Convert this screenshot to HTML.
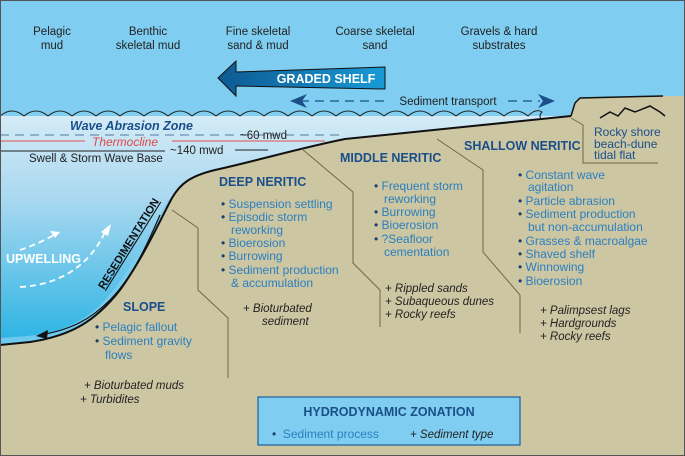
<!DOCTYPE html>
<html><head><meta charset="utf-8"><style>
html,body{margin:0;padding:0;background:#fff}
svg{display:block}
text{font-family:"Liberation Sans",Arial,sans-serif}
.b{fill:#2a7fc0;font-size:12px}
.b tspan.d{fill:#1a3f6a}
.h{fill:#1a4f8a;font-size:12.5px;font-weight:bold}
.i{fill:#222;font-size:11.5px;font-style:italic}
.t{fill:#222;font-size:11.5px}
</style></head><body>
<svg width="685" height="456" viewBox="0 0 685 456" xmlns="http://www.w3.org/2000/svg">
<defs>
<linearGradient id="deep" x1="0" y1="0" x2="0" y2="1">
<stop offset="0" stop-color="#d4ebf6"/><stop offset="0.35" stop-color="#a8d8f0"/><stop offset="1" stop-color="#1fb0e2"/>
</linearGradient>
<linearGradient id="arr" x1="0" y1="0" x2="1" y2="0">
<stop offset="0" stop-color="#0d5a92"/><stop offset="1" stop-color="#1a9ad6"/>
</linearGradient>
</defs>
<rect x="0" y="0" width="685" height="456" fill="#7fcdf0"/>
<rect x="0" y="116" width="600" height="240" fill="url(#deep)"/>
<path d="M0,116 q12,-10 24,0 q12,-10 24,0 q12,-10 24,0 q12,-10 24,0 q12,-10 24,0 q12,-10 24,0 q12,-10 24,0 q12,-10 24,0 q12,-10 24,0 q12,-10 24,0 q12,-10 24,0 q12,-10 24,0 q12,-10 24,0 q12,-10 24,0 q12,-10 24,0 q12,-10 24,0 q12,-10 24,0 q12,-10 24,0 q12,-10 24,0 q12,-10 24,0 q12,-10 24,0 q12,-10 24,0 q8,-8 14,-4 q-4,4 0,8" fill="none" stroke="#222" stroke-width="1"/>
<line x1="0" y1="135" x2="340" y2="135" stroke="#6a8fb0" stroke-width="1.3" stroke-dasharray="9,6"/>
<line x1="0" y1="141" x2="85" y2="141" stroke="#e05050" stroke-width="1"/>
<line x1="172" y1="141" x2="325" y2="141" stroke="#e05050" stroke-width="1"/>
<line x1="0" y1="151" x2="165" y2="151" stroke="#222" stroke-width="1"/>
<line x1="235" y1="150" x2="268" y2="150" stroke="#222" stroke-width="1"/>
<path d="M0,345 L30,342 C70,336 95,322 120,290 C145,255 160,220 172,198 C180,184 190,176 215,170 C260,160 300,148 345,139 L571,116 L575,103 L580,98 L663,96 L685,96 L685,456 L0,456 Z" fill="#cdc6a3"/>
<path d="M0,345 L30,342 C70,336 95,322 120,290 C145,255 160,220 172,198 L168,200 C156,222 140,255 115,288 C92,318 68,332 28,336 L0,338 Z" fill="#7fcdf0" opacity="0.8"/>
<path d="M0,345 L30,342 C70,336 95,322 120,290 C145,255 160,220 172,198 C180,184 190,176 215,170 C260,160 300,148 345,139 L571,116" fill="none" stroke="#111" stroke-width="2"/>
<path d="M571,116 L575,103 L580,98 L663,96" fill="none" stroke="#111" stroke-width="1.5"/>
<path d="M600,118 L610,112 L618,116 L625,108 L635,112 L650,106 L660,112 L665,116" fill="none" stroke="#111" stroke-width="1.5"/>
<path d="M160,215 C145,250 130,280 110,300 C90,320 70,330 40,335" fill="none" stroke="#111" stroke-width="1.2"/>
<polygon points="36,336 48,330 47,339" fill="#111"/>
<text transform="translate(104,290) rotate(-58)" font-size="11" font-weight="bold" fill="#111" style="text-decoration:underline">RESEDIMENTATION</text>
<g fill="none" stroke="#6b6a4a" stroke-width="1">
<polyline points="172,210 198,228 198,290 228,318 228,378"/>
<polyline points="302,149 353,192 353,263 380,290 380,327"/>
<polyline points="437,139 483,170 483,252 520,295 520,333"/>
<polyline points="571,118 583,125 583,163 658,163"/>
</g>
<polygon points="218,78 236,61 236,72 385,67 385,89 236,86 236,96" fill="url(#arr)" stroke="#111" stroke-width="1"/>
<text x="326" y="83" text-anchor="middle" font-size="12.5" font-weight="bold" fill="#fff">GRADED SHELF</text>
<line x1="300" y1="101" x2="388" y2="101" stroke="#1a4f8a" stroke-width="1.2" stroke-dasharray="9,6"/>
<line x1="508" y1="101" x2="540" y2="101" stroke="#1a4f8a" stroke-width="1.2" stroke-dasharray="9,6"/>
<polygon points="290,101 307,94 302,101 307,108" fill="#1a4f8a"/>
<polygon points="555,101 538,94 543,101 538,108" fill="#1a4f8a"/>
<text x="448" y="105" text-anchor="middle" class="t" font-size="12">Sediment transport</text>
<g class="t" text-anchor="middle" font-size="12">
<text x="52" y="35">Pelagic</text><text x="52" y="49">mud</text>
<text x="148" y="35">Benthic</text><text x="148" y="49">skeletal mud</text>
<text x="258" y="35">Fine skeletal</text><text x="258" y="49">sand &amp; mud</text>
<text x="375" y="35">Coarse skeletal</text><text x="375" y="49">sand</text>
<text x="499" y="35">Gravels &amp; hard</text><text x="499" y="49">substrates</text>
</g>
<text x="70" y="130" font-size="12.5" font-weight="bold" font-style="italic" fill="#1a4f8a">Wave Abrasion Zone</text>
<text x="92" y="146" font-size="12" font-style="italic" fill="#e04848">Thermocline</text>
<text x="240" y="139" class="t" font-size="12">~60 mwd</text>
<text x="170" y="154" class="t" font-size="12">~140 mwd</text>
<text x="29" y="162" class="t" font-size="12">Swell &amp; Storm Wave Base</text>
<g fill="none" stroke="#fff" stroke-width="1.8" stroke-dasharray="6,4">
<path d="M20,250 C35,245 45,240 58,233"/>
<path d="M20,287 C60,285 90,265 105,232"/>
</g>
<polygon points="60,232 50,231 55,238" fill="#fff"/>
<polygon points="111,224 101,232 108,236" fill="#fff"/>
<text x="6" y="263" font-size="12.5" font-weight="bold" fill="#fff">UPWELLING</text>
<text x="219" y="186" class="h">DEEP NERITIC</text>
<g class="b">
<text x="221" y="208"><tspan class="d">•</tspan> Suspension settling</text>
<text x="221" y="221"><tspan class="d">•</tspan> Episodic storm</text>
<text x="221" y="234">&#160;&#160;&#160;reworking</text>
<text x="221" y="247"><tspan class="d">•</tspan> Bioerosion</text>
<text x="221" y="260"><tspan class="d">•</tspan> Burrowing</text>
<text x="221" y="274"><tspan class="d">•</tspan> Sediment production</text>
<text x="221" y="287">&#160;&#160;&#160;&amp; accumulation</text>
</g>
<text x="243" y="312" class="i">+ Bioturbated</text>
<text x="262" y="325" class="i">sediment</text>
<text x="340" y="162" class="h">MIDDLE NERITIC</text>
<g class="b">
<text x="374" y="190"><tspan class="d">•</tspan> Frequent storm</text>
<text x="374" y="203">&#160;&#160;&#160;reworking</text>
<text x="374" y="216"><tspan class="d">•</tspan> Burrowing</text>
<text x="374" y="229"><tspan class="d">•</tspan> Bioerosion</text>
<text x="374" y="243"><tspan class="d">•</tspan> ?Seafloor</text>
<text x="374" y="256">&#160;&#160;&#160;cementation</text>
</g>
<g class="i">
<text x="385" y="292">+ Rippled sands</text>
<text x="385" y="305">+ Subaqueous dunes</text>
<text x="385" y="318">+ Rocky reefs</text>
</g>
<text x="464" y="150" class="h">SHALLOW NERITIC</text>
<g class="b">
<text x="518" y="179"><tspan class="d">•</tspan> Constant wave</text>
<text x="518" y="191">&#160;&#160;&#160;agitation</text>
<text x="518" y="205"><tspan class="d">•</tspan> Particle abrasion</text>
<text x="518" y="218"><tspan class="d">•</tspan> Sediment production</text>
<text x="518" y="231">&#160;&#160;&#160;but non-accumulation</text>
<text x="518" y="245"><tspan class="d">•</tspan> Grasses &amp; macroalgae</text>
<text x="518" y="258"><tspan class="d">•</tspan> Shaved shelf</text>
<text x="518" y="271"><tspan class="d">•</tspan> Winnowing</text>
<text x="518" y="285"><tspan class="d">•</tspan> Bioerosion</text>
</g>
<g class="i">
<text x="540" y="314">+ Palimpsest lags</text>
<text x="540" y="327">+ Hardgrounds</text>
<text x="540" y="340">+ Rocky reefs</text>
</g>
<g fill="#1a4f8a" font-size="12">
<text x="594" y="136">Rocky shore</text>
<text x="594" y="148">beach-dune</text>
<text x="594" y="159">tidal flat</text>
</g>
<text x="123" y="311" class="h">SLOPE</text>
<g class="b">
<text x="95" y="331"><tspan class="d">•</tspan> Pelagic fallout</text>
<text x="95" y="345"><tspan class="d">•</tspan> Sediment gravity</text>
<text x="95" y="359">&#160;&#160;&#160;flows</text>
</g>
<text x="84" y="389" class="i">+ Bioturbated muds</text>
<text x="80" y="403" class="i">+ Turbidites</text>
<rect x="258" y="397" width="262" height="48" fill="#7fcdf0" stroke="#1a5f9a" stroke-width="1.2"/>
<text x="389" y="416" text-anchor="middle" class="h">HYDRODYNAMIC  ZONATION</text>
<text x="272" y="438" class="b"><tspan class="d">•</tspan>&#160;&#160;Sediment process</text>
<text x="410" y="438" class="i" font-size="12">+ Sediment type</text>
<rect x="0.5" y="0.5" width="684" height="455" fill="none" stroke="#555" stroke-width="1"/>
</svg>
</body></html>
